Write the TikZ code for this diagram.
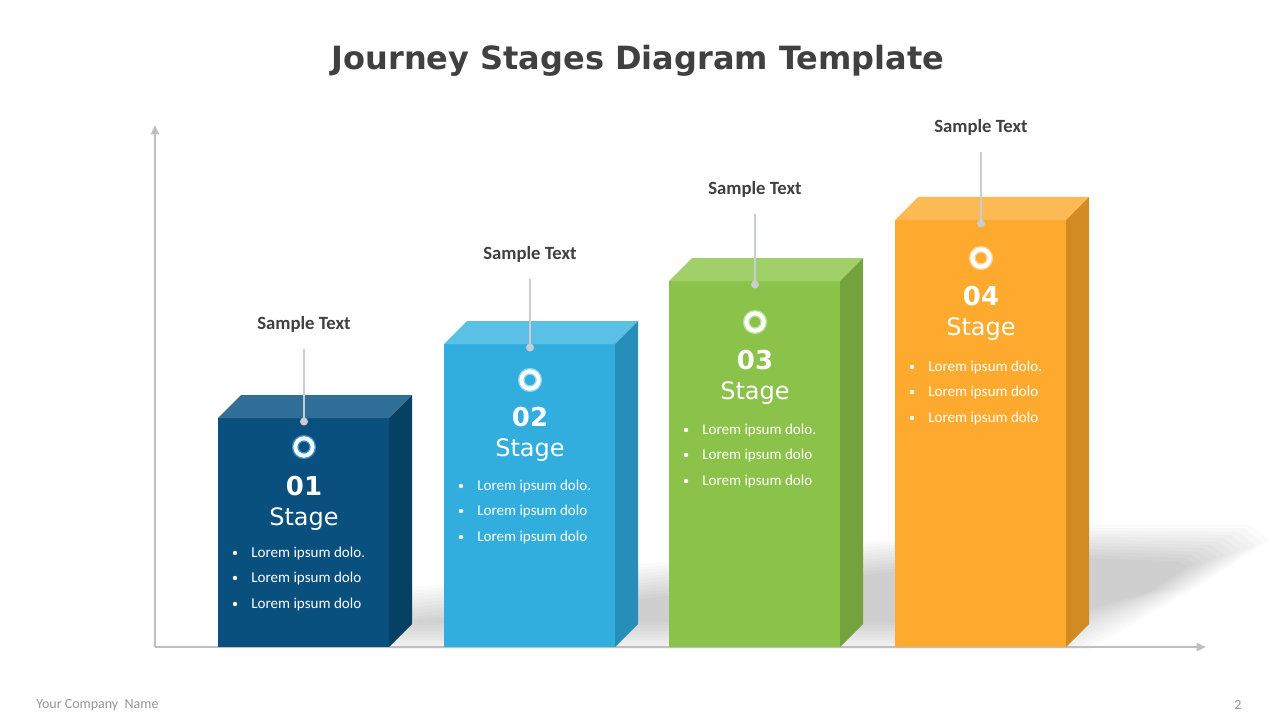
\documentclass[tikz,border=0pt]{standalone}
\usepackage{fontspec}
\setmainfont{Carlito}
\newfontfamily\verd{DejaVu Sans}
\usetikzlibrary{arrows.meta}
\definecolor{fA}{RGB}{10,80,127}\definecolor{tA}{RGB}{47,111,152}\definecolor{sA}{RGB}{6,64,99}\definecolor{rA}{RGB}{60,165,230}
\definecolor{fB}{RGB}{49,174,222}\definecolor{tB}{RGB}{91,192,230}\definecolor{sB}{RGB}{38,142,185}\definecolor{rB}{RGB}{170,225,245}
\definecolor{fC}{RGB}{139,195,74}\definecolor{tC}{RGB}{161,207,106}\definecolor{sC}{RGB}{116,162,61}\definecolor{rC}{RGB}{205,232,175}
\definecolor{fD}{RGB}{253,170,46}\definecolor{tD}{RGB}{253,186,84}\definecolor{sD}{RGB}{210,138,34}\definecolor{rD}{RGB}{254,222,170}
\definecolor{axisgray}{RGB}{191,191,191}
\definecolor{titlegray}{RGB}{64,64,64}
\definecolor{dotgray}{RGB}{200,205,210}
\definecolor{footgray}{RGB}{150,150,150}
\tikzset{
  titlestyle/.style={font=\verd\bfseries\fontsize{24}{28}\selectfont, text=titlegray},
  samplestyle/.style={font=\bfseries\fontsize{14}{16}\selectfont, text=titlegray},
  numstyle/.style={font=\verd\bfseries\fontsize{19.5}{22}\selectfont, text=white},
  stagestyle/.style={font=\verd\fontsize{18}{21}\selectfont, text=white},
  bulletstyle/.style={font=\fontsize{11.3}{13}\selectfont, text=white, anchor=west, inner sep=0pt},
  footstyle/.style={font=\fontsize{10.5}{12}\selectfont, text=footgray, inner sep=0pt},
  axisline/.style={draw=axisgray, line width=1.5pt},
  leader/.style={draw=dotgray, line width=0.8pt},
  shadowlayer/.style={fill=black, opacity=0.015},
}
\begin{document}
\begin{tikzpicture}[x=0.75pt,y=-0.75pt]
\useasboundingbox (0,0) rectangle (1280,720);
\fill[white] (0,0) rectangle (1280,720);
% soft shadow: nested layers, each inset a little more
\foreach \d in {0,3,...,33}{
  \fill[shadowlayer]
    (385+\d,590+\d) -- (880,540+\d) -- (1090,525+\d) -- (1250-2.2*\d,525+1.1*\d)
    -- (1270-2.5*\d,540+0.8*\d) -- (1200-1.5*\d,585+0.2*\d) -- (1080-\d,655-\d) -- (385+\d,655-\d) -- cycle;
}
% axes
\coordinate (o) at (155,647);
\coordinate (ytip) at (155,125);
\coordinate (xtip) at (1206,647);
\fill[white] (150,648.5) rectangle (1280,665);
\draw[axisline, -{Triangle[length=7pt,width=6pt]}] (o) -- (ytip);
\draw[axisline, -{Triangle[length=7pt,width=6pt]}] (o) -- (xtip);
% title
\node[titlestyle] (title) at (638,61) {Journey Stages Diagram Template};
% bars
\foreach \n/\x/\t/\fc/\tc/\sc/\rc/\lab/\ly/\ry/\my/\by in {
  1/218/418/fA/tA/sA/rA/01/324/447/486/553,
  2/444/344/fB/tB/sB/rB/02/254/380/417/486,
  3/669/281/fC/tC/sC/rC/03/189/322/360/430,
  4/895/220/fD/tD/sD/rD/04/127/258/296/367}{
  \fill[\fc] (\x,\t) rectangle (\x+171,647);
  \fill[\tc] (\x,\t) -- (\x+23,\t-23) -- (\x+194,\t-23) -- (\x+171,\t) -- cycle;
  \fill[\sc] (\x+171,\t) -- (\x+194,\t-23) -- (\x+194,624) -- (\x+171,647) -- cycle;
  \node[samplestyle] (lab\n) at (\x+86,\ly) {Sample Text};
  \coordinate (dot\n) at (\x+86,\t+3.5);
  \coordinate (lt\n) at (\x+86,\ly+25);
  \draw[leader] (lt\n) -- (dot\n);
  \fill[dotgray] (dot\n) circle (4);
  \draw[\rc, line width=5pt, opacity=0.8] (\x+86,\ry) circle (8.7);
  \draw[white, line width=3pt] (\x+86,\ry) circle (8.7);
  \node[numstyle] (num\n) at (\x+86,\my) {\lab};
  \node[stagestyle] (stage\n) at (\x+86,\my+33) {Stage};
  \node[bulletstyle] (b\n a) at (\x+33,\by) {Lorem ipsum dolo.};
  \node[bulletstyle] (b\n b) at (\x+33,\by+25) {Lorem ipsum dolo};
  \node[bulletstyle] (b\n c) at (\x+33,\by+51) {Lorem ipsum dolo};
  \foreach \yy in {0,25,51}{
    \fill[white] (\x+17,\by+\yy) circle (2.2);
  }
}
% footer
\node[footstyle, anchor=west] (company) at (36,705) {Your Company\ \ Name};
\node[footstyle] (page) at (1238,705) {2};
\end{tikzpicture}
\end{document}
